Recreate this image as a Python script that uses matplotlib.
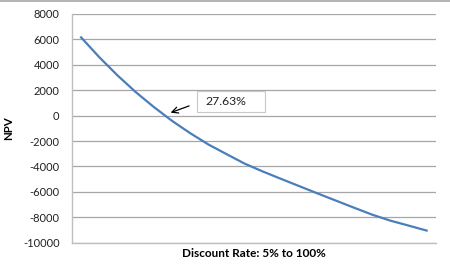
import matplotlib

matplotlib.use("Agg")
import matplotlib.pyplot as plt
import matplotlib.patches as mpatches
import matplotlib.transforms as mtransforms

# discount rate 5% .. 100% in 5% steps, NPV
rates = [5, 10, 15, 20, 25, 30, 35, 40, 45, 50,
         55, 60, 65, 70, 75, 80, 85, 90, 95, 100]
npv = [6160, 4600, 3170, 1860, 680, -410, -1380, -2270, -3030, -3780,
       -4400, -4980, -5550, -6120, -6680, -7240, -7790, -8260, -8650, -9045]
irr = 27.63
yticks = list(range(-10000, 8001, 2000))

plt.rcParams["font.family"] = ["Lato", "DejaVu Sans"]

fig = plt.figure(figsize=(4.5, 2.75), dpi=100)
ax = fig.add_axes([72 / 450, 1 - 242.7 / 275, (435.7 - 72) / 450, (242.7 - 14) / 275])

idx = list(range(len(rates)))
ax.plot(idx, npv, color="#4a7ebb", lw=1.6, solid_joinstyle="round")

ax.set_xlim(-0.5, len(rates) - 0.5)
ax.set_ylim(-10000, 8000)
ax.set_yticks(yticks)
ax.set_yticklabels([str(v) for v in yticks], fontsize=8, color="#222222")
ax.set_xticks([])
ax.tick_params(axis="y", length=0, pad=9)
ax.grid(axis="y", color="#a6a6a6", lw=0.9)
ax.set_axisbelow(True)
for side in ("top", "right"):
    ax.spines[side].set_visible(False)
for side in ("left", "bottom"):
    ax.spines[side].set_color("#bfbfbf")
    ax.spines[side].set_linewidth(1.0)

ax.set_ylabel("NPV", fontsize=8.3, fontweight="bold", labelpad=6)
ax.set_xlabel("Discount Rate: 5% to 100%", fontsize=8.5, fontweight="bold", labelpad=4)

# annotation at the IRR, placed in pixel offsets from the crossing point
irr_x = (irr - rates[0]) / (rates[1] - rates[0])
px, py = ax.transData.transform((irr_x, 0))
ident = mtransforms.IdentityTransform()
box = mpatches.Rectangle((px + 33.3, py + 3.3), 68.3, 21.7, transform=ident,
                         facecolor="white", edgecolor="#c8c8c8", lw=0.8, zorder=5)
fig.add_artist(box)
fig.text(px + 41.6, py + 14.1, f"{irr:.2f}%", transform=ident, fontsize=8.8,
         color="#222222", va="center", ha="left", zorder=6)
ax.annotate("", xy=(px + 4.6, py + 2), xytext=(px + 28.3, py + 10.7),
            xycoords=ident, textcoords=ident,
            arrowprops=dict(arrowstyle="->", color="black", lw=0.9,
                            mutation_scale=11))

# chart frame edge at the very top
fig.add_artist(plt.Line2D([0, 1], [1 - 0.6 / 275] * 2, transform=fig.transFigure,
                          color="#a6a6a6", lw=1.2))

fig.savefig("out.png", dpi=100)
